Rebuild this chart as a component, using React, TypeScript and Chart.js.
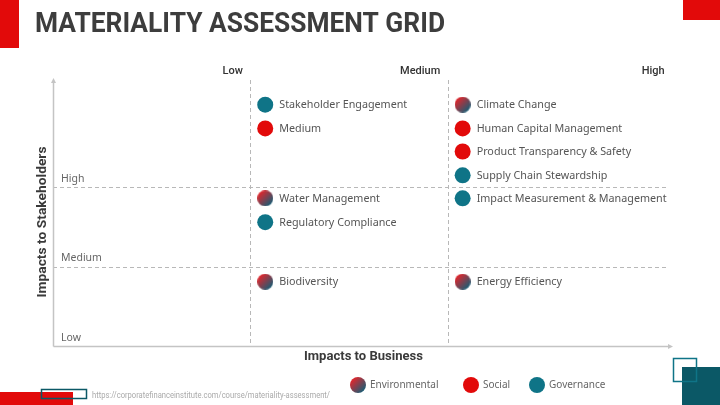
import React, { useEffect, useRef } from "react";
import { Chart, registerables } from "chart.js";

Chart.register(...registerables);

// ---------- data ----------
const categories = ["Environmental", "Social", "Governance"];

const envNames = ["Climate Change", "Water Management", "Biodiversity", "Energy Efficiency"];
const envX = [2.075, 1.075, 1.075, 2.075];
const envY = [3.04, 1.86, 0.81, 0.81];

const socNames = ["Medium", "Human Capital Management", "Product Transparency & Safety"];
const socX = [1.075, 2.075, 2.075];
const socY = [2.74, 2.74, 2.45];

const govNames = [
  "Stakeholder Engagement",
  "Supply Chain Stewardship",
  "Impact Measurement & Management",
  "Regulatory Compliance",
];
const govX = [1.075, 2.075, 2.075, 1.075];
const govY = [3.04, 2.15, 1.86, 1.56];

const xLevelLabels = ["Low", "Medium", "High"];
const xLevelPos = [0.91, 1.86, 3.04];
const yLevelLabels = ["Low", "Medium", "High"];
const yLevelPos = [0, 1, 2];
const gridPos = [1, 2];

const titleText = "MATERIALITY ASSESSMENT GRID";
const xTitle = "Impacts to Business";
const yTitle = "Impacts to Stakeholders";
const sourceText = "https://corporatefinanceinstitute.com/course/materiality-assessment/";

// ---------- style ----------
const RED = "#e20a0a";
const TEAL = "#0f7487";
const DARK_TEAL = "#0b5866";
const AXIS = "#c4c4c4";
const DASH = "#b8b8b8";
const LABEL_FONT = "'Noto Sans', sans-serif";
const HEAD_FONT = "Roboto, 'Noto Sans', sans-serif";

function makeGradientDot(r: number): HTMLCanvasElement {
  const c = document.createElement("canvas");
  c.width = r * 2;
  c.height = r * 2;
  const g = c.getContext("2d")!;
  const grad = g.createLinearGradient(0, 0, r * 2, r * 2);
  grad.addColorStop(0.15, "#e0262c");
  grad.addColorStop(0.85, "#1d5c74");
  g.fillStyle = grad;
  g.beginPath();
  g.arc(r, r, r, 0, Math.PI * 2);
  g.fill();
  return c;
}

// draws text squeezed horizontally to a given width (condensed look)
function fillFit(
  ctx: CanvasRenderingContext2D,
  text: string,
  x: number,
  y: number,
  width: number,
  align: "left" | "center"
) {
  const w = ctx.measureText(text).width;
  const s = width / w;
  ctx.save();
  ctx.translate(x, y);
  ctx.scale(s, 1);
  ctx.textAlign = align;
  ctx.fillText(text, 0, 0);
  ctx.restore();
}

function toPoints(xs: number[], ys: number[], names: string[]) {
  return xs.map((x, i) => ({ x, y: ys[i], name: names[i] }));
}

export default function App() {
  const ref = useRef<HTMLCanvasElement | null>(null);

  useEffect(() => {
    if (!ref.current) return;
    const envDot = makeGradientDot(8);
    const legendColors: any[] = [envDot, RED, TEAL];

    const overlay = {
      id: "overlay",
      beforeDraw(chart: any) {
        const ctx = chart.ctx as CanvasRenderingContext2D;
        ctx.save();
        ctx.fillStyle = "#fff";
        ctx.fillRect(0, 0, chart.width, chart.height);
        // decorations
        ctx.fillStyle = RED;
        ctx.fillRect(0, 0, 19, 48);
        ctx.fillRect(683, 0, 37, 20);
        ctx.fillRect(0, 392, 73, 13);
        ctx.fillStyle = DARK_TEAL;
        ctx.fillRect(682, 367, 38, 38);
        ctx.strokeStyle = DARK_TEAL;
        ctx.lineWidth = 1.5;
        ctx.strokeRect(41.5, 389.5, 45, 9);
        ctx.strokeStyle = TEAL;
        ctx.strokeRect(673.5, 358.5, 23, 23);
        // title
        ctx.fillStyle = "#3d3d3d";
        ctx.font = `bold 27px ${HEAD_FONT}`;
        ctx.textBaseline = "alphabetic";
        fillFit(ctx, titleText, 35, 32, 410, "left");
        ctx.restore();
      },
      beforeDatasetsDraw(chart: any) {
        const ctx = chart.ctx as CanvasRenderingContext2D;
        const xs = chart.scales.x;
        const ys = chart.scales.y;
        const { left, right, top, bottom } = chart.chartArea;
        ctx.save();
        // dashed grid
        ctx.strokeStyle = DASH;
        ctx.lineWidth = 1;
        ctx.setLineDash([4, 3]);
        gridPos.forEach((v) => {
          const px = Math.round(xs.getPixelForValue(v)) + 0.5;
          ctx.beginPath();
          ctx.moveTo(px, top - 4);
          ctx.lineTo(px, bottom);
          ctx.stroke();
          const py = Math.round(ys.getPixelForValue(v)) + 0.5;
          ctx.beginPath();
          ctx.moveTo(left, py);
          ctx.lineTo(right + 4, py);
          ctx.stroke();
        });
        ctx.setLineDash([]);
        // axes with arrows
        ctx.strokeStyle = AXIS;
        ctx.fillStyle = AXIS;
        ctx.lineWidth = 1.5;
        const ax = left + 0.5;
        const ay = bottom + 0.5;
        ctx.beginPath();
        ctx.moveTo(ax, ay);
        ctx.lineTo(ax, top - 2);
        ctx.moveTo(ax, ay);
        ctx.lineTo(right + 4, ay);
        ctx.stroke();
        ctx.beginPath();
        ctx.moveTo(ax, top - 6);
        ctx.lineTo(ax - 2.5, top - 1);
        ctx.lineTo(ax + 2.5, top - 1);
        ctx.closePath();
        ctx.fill();
        ctx.beginPath();
        ctx.moveTo(right + 8, ay);
        ctx.lineTo(right + 3, ay - 2.5);
        ctx.lineTo(right + 3, ay + 2.5);
        ctx.closePath();
        ctx.fill();

        // x level labels (top)
        ctx.fillStyle = "#333";
        ctx.font = `500 11px ${HEAD_FONT}`;
        ctx.textAlign = "center";
        ctx.textBaseline = "middle";
        xLevelLabels.forEach((t, i) => {
          ctx.fillText(t, xs.getPixelForValue(xLevelPos[i]), 71);
        });
        // y level labels
        ctx.fillStyle = "#666";
        ctx.font = `10.5px ${LABEL_FONT}`;
        ctx.textAlign = "left";
        ctx.textBaseline = "bottom";
        yLevelLabels.forEach((t, i) => {
          ctx.fillText(t, left + 8, ys.getPixelForValue(yLevelPos[i]) - 3);
        });
        // axis titles
        ctx.fillStyle = "#3a3a3a";
        ctx.font = `bold 13px ${HEAD_FONT}`;
        ctx.textBaseline = "middle";
        fillFit(ctx, xTitle, 363.5, 357, 119, "center");
        ctx.translate(43, 222);
        ctx.rotate(-Math.PI / 2);
        fillFit(ctx, yTitle, 0, 0, 151, "center");
        ctx.restore();
      },
      afterDatasetsDraw(chart: any) {
        const ctx = chart.ctx as CanvasRenderingContext2D;
        ctx.save();
        ctx.fillStyle = "#555";
        ctx.font = `10.75px ${LABEL_FONT}`;
        ctx.textAlign = "left";
        ctx.textBaseline = "middle";
        chart.data.datasets.forEach((ds: any, di: number) => {
          const meta = chart.getDatasetMeta(di);
          meta.data.forEach((el: any, i: number) => {
            ctx.fillText(ds.data[i].name, el.x + 14, el.y + 0.5);
          });
        });
        ctx.restore();
      },
      afterDraw(chart: any) {
        const ctx = chart.ctx as CanvasRenderingContext2D;
        ctx.save();
        // legend
        const legendX = [358, 471, 537];
        const ly = 385;
        ctx.font = `10px ${LABEL_FONT}`;
        ctx.textBaseline = "middle";
        ctx.textAlign = "left";
        categories.forEach((c, i) => {
          const col = legendColors[i];
          if (typeof col === "string") {
            ctx.fillStyle = col;
            ctx.beginPath();
            ctx.arc(legendX[i], ly, 8, 0, Math.PI * 2);
            ctx.fill();
          } else {
            ctx.drawImage(col, legendX[i] - 8, ly - 8);
          }
          ctx.fillStyle = "#666";
          ctx.fillText(c, legendX[i] + 12, ly);
        });
        // source
        ctx.fillStyle = "#aaa";
        ctx.font = `8.5px ${HEAD_FONT}`;
        fillFit(ctx, sourceText, 92, 396, 238, "left");
        ctx.restore();
      },
    };

    const chart = new Chart(ref.current, {
      type: "scatter",
      data: {
        datasets: [
          {
            label: categories[0],
            data: toPoints(envX, envY, envNames) as any,
            pointStyle: envDot as any,
            pointRadius: 8,
            pointHoverRadius: 8,
          },
          {
            label: categories[1],
            data: toPoints(socX, socY, socNames) as any,
            backgroundColor: RED,
            borderColor: RED,
            pointRadius: 8,
            pointHoverRadius: 8,
            borderWidth: 0,
          },
          {
            label: categories[2],
            data: toPoints(govX, govY, govNames) as any,
            backgroundColor: TEAL,
            borderColor: TEAL,
            pointRadius: 8,
            pointHoverRadius: 8,
            borderWidth: 0,
          },
        ],
      },
      options: {
        responsive: false,
        animation: false,
        events: [],
        layout: { padding: { left: 53, right: 55, top: 84, bottom: 59 } },
        scales: {
          x: { type: "linear", min: 0, max: 3.1, display: false },
          y: { type: "linear", min: 0, max: 3.3, display: false },
        },
        plugins: {
          legend: { display: false },
          tooltip: { enabled: false },
        },
      },
      plugins: [overlay as any],
    });
    return () => chart.destroy();
  }, []);

  return (
    <div style={{ position: "absolute", left: 0, top: 0, width: 720, height: 405, background: "#fff" }}>
      <canvas ref={ref} width={720} height={405} style={{ width: 720, height: 405, display: "block" }} />
    </div>
  );
}
